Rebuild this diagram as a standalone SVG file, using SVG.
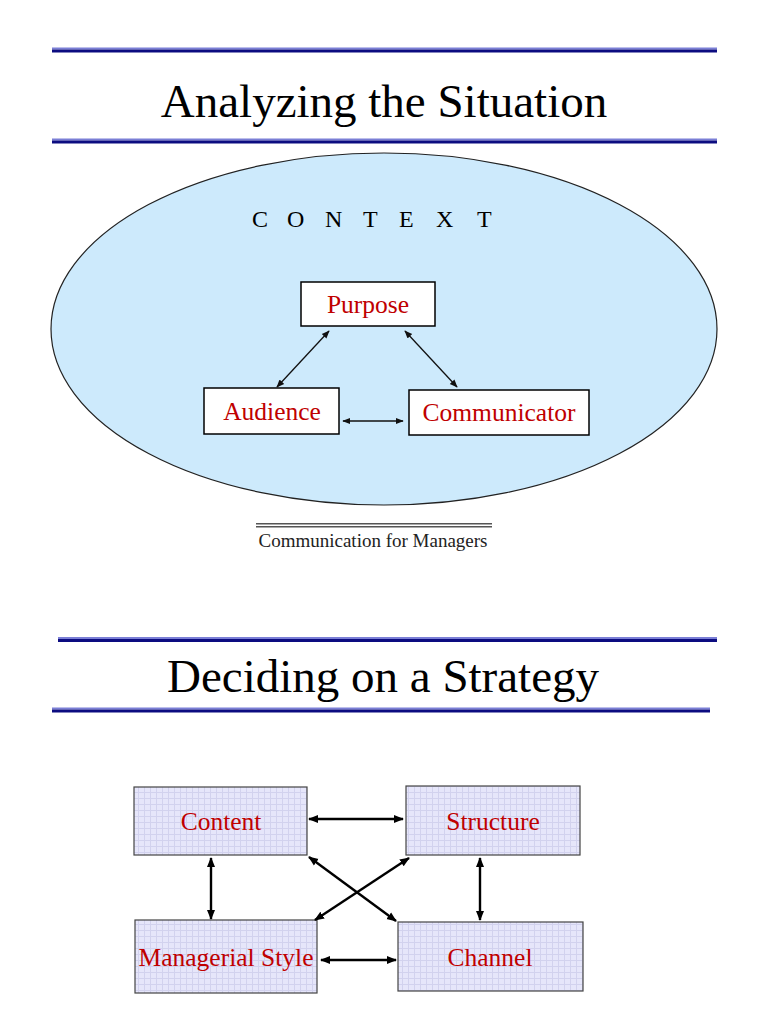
<svg xmlns="http://www.w3.org/2000/svg" width="768" height="1024" viewBox="0 0 768 1024">
<style>
.title{font-family:"Liberation Serif","Times New Roman",serif;font-size:47px;fill:#000;text-anchor:middle}
.lbl{font-family:"Liberation Serif","Times New Roman",serif;font-size:25.5px;fill:#c00000;text-anchor:middle}
.lbl2{font-family:"Liberation Serif","Times New Roman",serif;font-size:25.5px;fill:#c00000;text-anchor:middle}
.ctx{font-family:"Liberation Serif","Times New Roman",serif;font-size:24px;fill:#000}
.foot{font-family:"Liberation Serif","Times New Roman",serif;font-size:19px;fill:#222;text-anchor:middle}
.box1{fill:#fff;stroke:#000;stroke-width:1.5}
.box2{fill:url(#grid);stroke:#444;stroke-width:1.2}
.c1{stroke:#111;stroke-width:1.3;fill:none;marker-start:url(#ah1);marker-end:url(#ah1)}
.c2{stroke:#000;stroke-width:2.4;fill:none;marker-start:url(#ah2);marker-end:url(#ah2)}
</style>
<defs>
<marker id="ah1" viewBox="0 0 10 10" refX="9" refY="5" markerWidth="8" markerHeight="8" markerUnits="userSpaceOnUse" orient="auto-start-reverse"><path d="M0,1 L10,5 L0,9 Z" fill="#111"/></marker>
<marker id="ah2" viewBox="0 0 10 10" refX="9" refY="5" markerWidth="10" markerHeight="10" markerUnits="userSpaceOnUse" orient="auto-start-reverse"><path d="M0,1 L10,5 L0,9 Z" fill="#000"/></marker>
<pattern id="grid" width="6" height="6" patternUnits="userSpaceOnUse"><rect width="6" height="6" fill="#e6e6fa"/><path d="M0,0.5 H6 M0.5,0 V6" stroke="#d2d2ee" stroke-width="1"/></pattern>
</defs>

<!-- Slide 1 -->
<g id="header1">
<rect x="52" y="47.5" width="665" height="2" fill="#7b7fd6"/>
<rect x="52" y="49.5" width="665" height="3" fill="#0c0c80"/>
<text class="title" x="384" y="117">Analyzing the Situation</text>
<rect x="52" y="138.5" width="665" height="2" fill="#7b7fd6"/>
<rect x="52" y="140.5" width="665" height="3" fill="#0c0c80"/>
</g>

<g id="context">
<ellipse cx="384" cy="329" rx="333" ry="176" fill="#cdeafc" stroke="#222" stroke-width="1.2"/>
<text class="ctx" y="227"><tspan x="252">C</tspan><tspan x="287">O</tspan><tspan x="325">N</tspan><tspan x="363">T</tspan><tspan x="399">E</tspan><tspan x="436">X</tspan><tspan x="477">T</tspan></text>
</g>

<g id="purpose">
<rect class="box1" x="301" y="282" width="134" height="44"/>
<text class="lbl" x="368" y="313">Purpose</text>
</g>
<g id="audience">
<rect class="box1" x="204" y="388" width="135" height="46"/>
<text class="lbl" x="272" y="420">Audience</text>
</g>
<g id="communicator">
<rect class="box1" x="409" y="390" width="180" height="45"/>
<text class="lbl" x="499" y="421">Communicator</text>
</g>

<g id="connectors1">
<line class="c1" x1="329" y1="331" x2="277" y2="387"/>
<line class="c1" x1="405" y1="331" x2="457" y2="387"/>
<line class="c1" x1="343" y1="421" x2="403" y2="421"/>
</g>

<g id="footer">
<rect x="256" y="523" width="236" height="1.5" fill="#555"/>
<rect x="256" y="526" width="236" height="1.5" fill="#555"/>
<text class="foot" x="373" y="547">Communication for Managers</text>
</g>

<!-- Slide 2 -->
<g id="header2">
<rect x="58" y="637" width="659" height="2" fill="#7b7fd6"/>
<rect x="58" y="639" width="659" height="3" fill="#0c0c80"/>
<text class="title" x="383" y="692">Deciding on a Strategy</text>
<rect x="52" y="707.5" width="658" height="2" fill="#7b7fd6"/>
<rect x="52" y="709.5" width="658" height="3" fill="#0c0c80"/>
</g>

<g id="content">
<rect class="box2" x="134" y="787" width="173" height="68"/>
<text class="lbl2" x="221" y="830">Content</text>
</g>
<g id="structure">
<rect class="box2" x="406" y="786" width="174" height="69"/>
<text class="lbl2" x="493" y="830">Structure</text>
</g>
<g id="managerial">
<rect class="box2" x="135" y="920" width="182" height="73"/>
<text class="lbl2" x="226" y="966">Managerial Style</text>
</g>
<g id="channel">
<rect class="box2" x="398" y="922" width="185" height="69"/>
<text class="lbl2" x="490" y="966">Channel</text>
</g>

<g id="connectors2">
<line class="c2" x1="309" y1="819" x2="403" y2="819"/>
<line class="c2" x1="211" y1="858" x2="211" y2="919"/>
<line class="c2" x1="480" y1="858" x2="480" y2="920"/>
<line class="c2" x1="321" y1="960" x2="396" y2="960"/>
<line class="c2" x1="309" y1="857" x2="396" y2="921"/>
<line class="c2" x1="409" y1="858" x2="315" y2="920"/>
</g>
</svg>
